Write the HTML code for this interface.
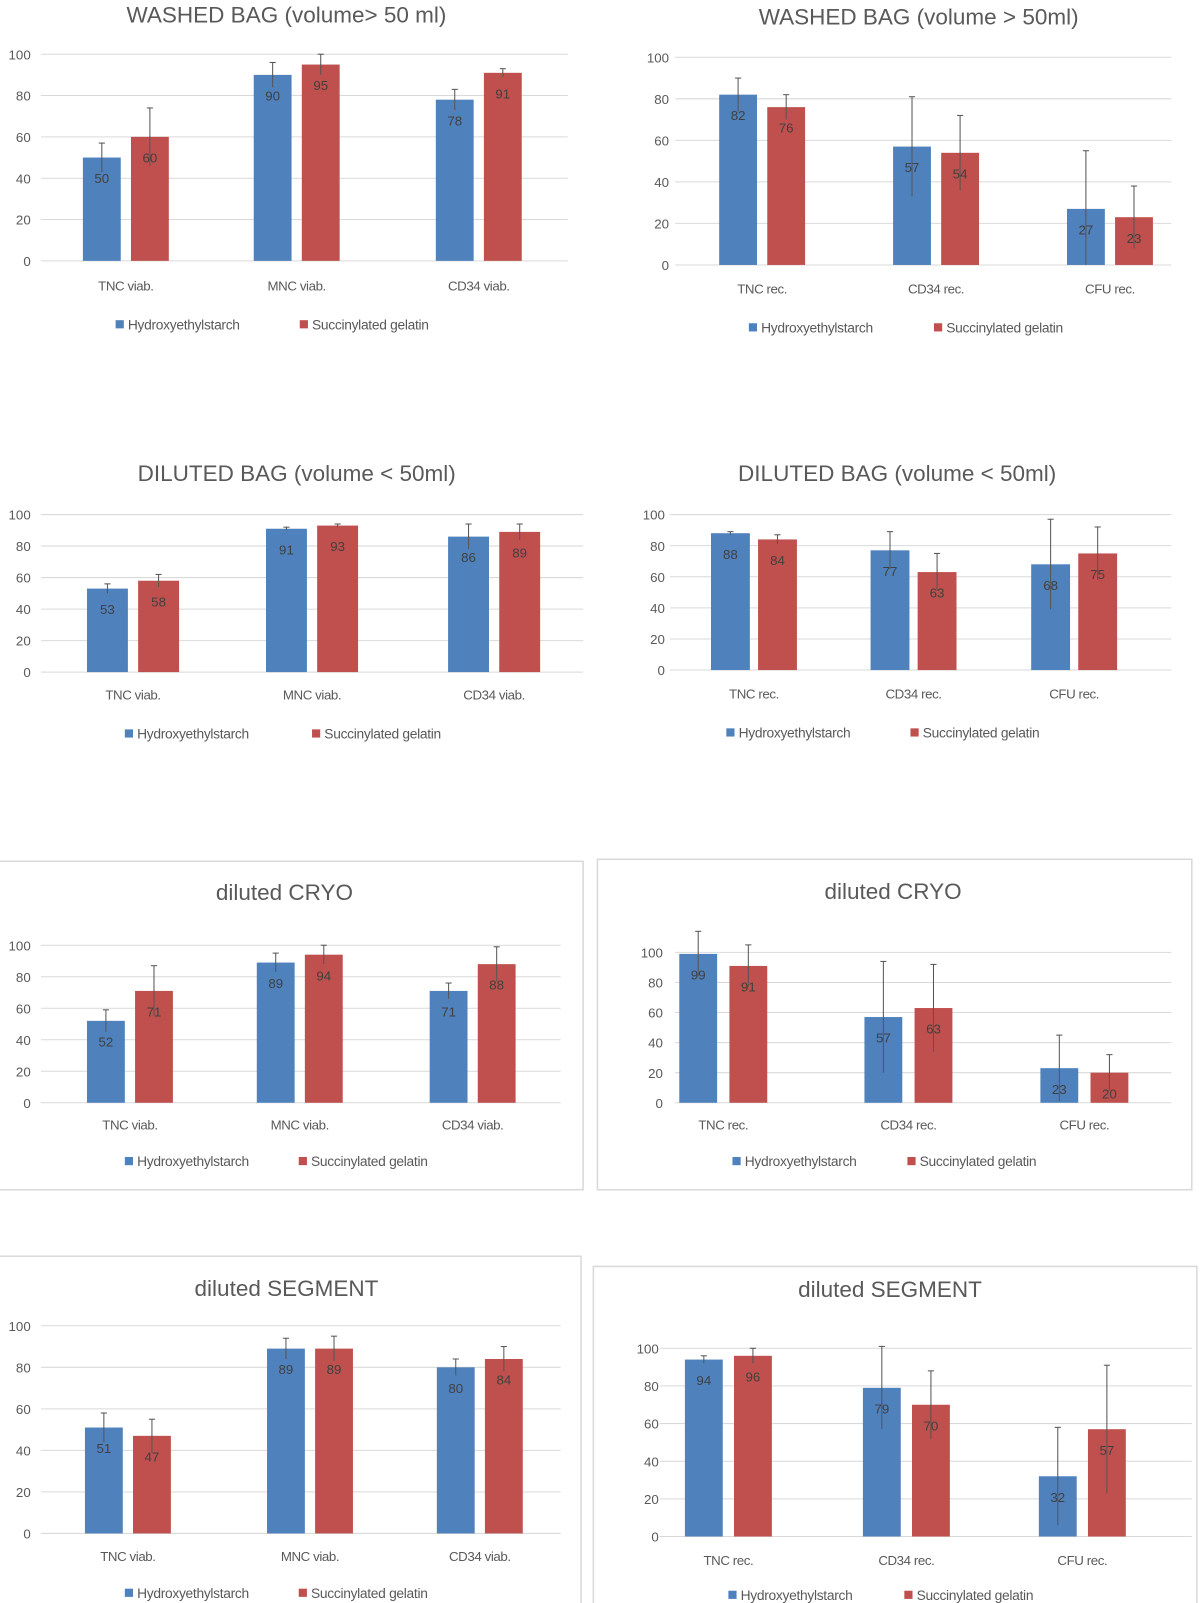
<!DOCTYPE html>
<html><head><meta charset="utf-8"><style>
html,body{margin:0;padding:0;background:#fff;}
svg{display:block;}
text{font-family:"Liberation Sans",sans-serif;fill:#595959;}
</style></head><body>
<svg id="fig" width="1200" height="1603" viewBox="0 0 1173 1567" xmlns="http://www.w3.org/2000/svg"></svg>
<script>
// ---- data ----
const viabCats = ["TNC viab.", "MNC viab.", "CD34 viab."];
const recCats = ["TNC rec.", "CD34 rec.", "CFU rec."];
const yTicks = [0, 20, 40, 60, 80, 100];
const seriesNames = ["Hydroxyethylstarch", "Succinylated gelatin"];
const titles = ["WASHED BAG  (volume> 50 ml)", "WASHED BAG (volume > 50ml)", "DILUTED BAG (volume < 50ml)", "DILUTED BAG (volume < 50ml)", "diluted CRYO", "diluted CRYO", "diluted SEGMENT", "diluted SEGMENT"];
const hesValues = [[50,90,78],[82,57,27],[53,91,86],[88,77,68],[52,89,71],[99,57,23],[51,89,80],[94,79,32]];
const sgValues  = [[60,95,91],[76,54,23],[58,93,89],[84,63,75],[71,94,88],[91,63,20],[47,89,84],[96,70,57]];
const hesErr = [[7,6,5],[8,24,28],[3,1,8],[1,12,29],[7,6,5],[15,37,22],[7,5,4],[2,22,26]];
const sgErr  = [[14,5,2],[6,18,15],[4,1,5],[3,12,17],[16,6,11],[14,29,12],[8,6,6],[4,18,34]];

// ---- layout (px in 1173-wide space) ----
const layouts = [
 {tx:280,ty:22,y100:53,y0:255,pl:40,pr:555,cx:[123,290,468],bw:37,gap:10,lx:8,ly:279,gy:318,leg:[113,293],box:null},
 {tx:898,ty:24,y100:56,y0:259,pl:660,pr:1145,cx:[745,915,1085],bw:37,gap:10,lx:632,ly:282,gy:321,leg:[732,913],box:null},
 {tx:290,ty:470,y100:503,y0:657,pl:40,pr:570,cx:[130,305,483],bw:40,gap:10,lx:8,ly:679,gy:718,leg:[122,305],box:null},
 {tx:877,ty:470,y100:503,y0:655,pl:655,pr:1145,cx:[737,893,1050],bw:38,gap:8,lx:628,ly:678,gy:717,leg:[710,890],box:null},
 {tx:278,ty:880,y100:924,y0:1078,pl:40,pr:548,cx:[127,293,462],bw:37,gap:10,lx:8,ly:1099,gy:1136,leg:[122,292],box:[-2,842,570,1163]},
 {tx:873,ty:879,y100:931,y0:1078,pl:660,pr:1145,cx:[707,888,1060],bw:37,gap:12,lx:626,ly:1099,gy:1136,leg:[716,887],box:[584,840,1165,1163]},
 {tx:280,ty:1267,y100:1296,y0:1499,pl:40,pr:548,cx:[125,303,469],bw:37,gap:10,lx:8,ly:1521,gy:1558,leg:[122,292],box:[-2,1228,568,1570]},
 {tx:870,ty:1268,y100:1318,y0:1502,pl:645,pr:1165,cx:[712,886,1058],bw:37,gap:11,lx:622,ly:1525,gy:1560,leg:[712,884],box:[580,1238,1170,1570]}
];
const NS = "http://www.w3.org/2000/svg";
const svg = document.getElementById("fig");
function mk(tag, attrs, parent, txt){
  const e = document.createElementNS(NS, tag);
  for (const k in attrs) e.setAttribute(k, attrs[k]);
  if (txt !== undefined) e.textContent = txt;
  parent.appendChild(e);
  return e;
}
const colors = ["#4f81bd", "#c0504d"];
layouts.forEach((L, ci) => {
  const g = mk("g", {}, svg);
  
  
  const y = v => L.y0 - (L.y0 - L.y100) * v / 100;
  if (L.box) {
    const b = mk("rect", {x:L.box[0], y:L.box[1], width:L.box[2]-L.box[0], height:L.box[3]-L.box[1], fill:"none", stroke:"#d9d9d9", "stroke-width":1.5}, g);
    
    
  }
  const t = mk("text", {x:L.tx, y:L.ty, "text-anchor":"middle", "font-size":22}, g, titles[ci]);
  
  
  yTicks.forEach(v => {
    const gl = mk("line", {x1:L.pl, x2:L.pr, y1:y(v), y2:y(v), stroke:"#d9d9d9", "stroke-width":1}, g);
    
    
    const tl = mk("text", {x:L.lx + 22, y:y(v)+5, "text-anchor":"end", "font-size":13}, g, String(v));
    
    
  });
  const cats = (ci % 2 === 0) ? viabCats : recCats;
  cats.forEach((c, i) => {
    const cl = mk("text", {x:L.cx[i], y:L.ly+5, "text-anchor":"middle", "font-size":13, "letter-spacing":"-0.4"}, g, c);
    
    
    [hesValues[ci][i], sgValues[ci][i]].forEach((v, s) => {
      const err = s === 0 ? hesErr[ci][i] : sgErr[ci][i];
      const x0 = s === 0 ? L.cx[i] - L.gap/2 - L.bw : L.cx[i] + L.gap/2;
      const r = mk("rect", {x:x0, y:y(v), width:L.bw, height:y(0)-y(v), fill:colors[s]}, g);
      
      
      const xm = x0 + L.bw/2;
      const el = mk("line", {x1:xm, x2:xm, y1:y(Math.min(v+err,115)), y2:y(Math.max(v-err,0)), stroke:"#555", "stroke-width":1}, g);
      
      
      const cap = mk("line", {x1:xm-3, x2:xm+3, y1:y(Math.min(v+err,115)), y2:y(Math.min(v+err,115)), stroke:"#555", "stroke-width":1}, g);
      
      
      const vl = mk("text", {x:xm, y:y(v)+25, "text-anchor":"middle", "font-size":13, style:"fill:#404040"}, g, String(v));
      
      
    });
  });
  seriesNames.forEach((n, s) => {
    const sq = mk("rect", {x:L.leg[s], y:L.gy-5, width:8, height:8, fill:colors[s]}, g);
    
    
    const lt = mk("text", {x:L.leg[s]+12, y:L.gy+4, "font-size":13.5, "letter-spacing":"-0.3"}, g, n);
    
    
  });
});
</script>
</body></html>
